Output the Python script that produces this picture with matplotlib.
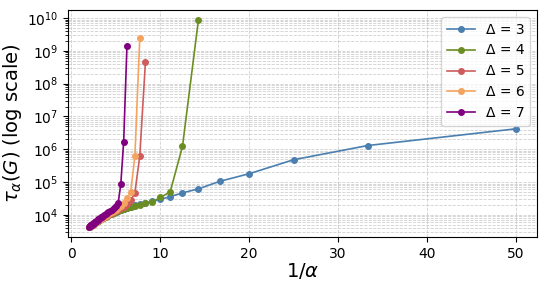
import numpy as np
import matplotlib
matplotlib.use("Agg")
import matplotlib.pyplot as plt

alphas = [0.02, 0.03, 0.04, 0.05, 0.06, 0.07, 0.08, 0.09, 0.10, 0.11, 0.12, 0.13,
          0.14, 0.15, 0.16, 0.17, 0.18, 0.19, 0.20, 0.21, 0.22, 0.23, 0.24, 0.25,
          0.26, 0.27, 0.28, 0.29, 0.30, 0.31, 0.32, 0.33, 0.34, 0.35, 0.36, 0.37,
          0.38, 0.39, 0.40, 0.41, 0.42, 0.43, 0.44, 0.45, 0.46, 0.47, 0.48, 0.49, 0.50]

tau_d3 = [4.2e6, 1.3e6, 4.8e5, 1.8e5, 1.05e5, 6.2e4, 4.7e4, 3.6e4, 2.95e4, 2.6e4,
          2.35e4, 2.15e4, 1.95e4, 1.78e4, 1.65e4, 1.55e4, 1.45e4, 1.35e4, 1.26e4,
          1.18e4, 1.12e4, 1.05e4, 1.0e4, 9.5e3, 9.1e3, 8.7e3, 8.3e3, 7.9e3, 7.6e3,
          7.3e3, 7.0e3, 6.8e3, 6.6e3, 6.3e3, 6.1e3, 5.9e3, 5.75e3, 5.6e3, 5.5e3,
          5.35e3, 5.25e3, 5.1e3, 5.0e3, 4.9e3, 4.8e3, 4.7e3, 4.6e3, 4.5e3, 4.4e3]
tau_d4 = [8.5e9, 1.23e6, 5.0e4, 3.4e4, 2.5e4, 2.25e4, 2.05e4, 1.87e4, 1.72e4, 1.6e4,
          1.5e4, 1.4e4, 1.31e4, 1.23e4, 1.16e4, 1.09e4, 1.03e4, 9.8e3, 9.3e3, 8.9e3,
          8.5e3, 8.1e3, 7.8e3, 7.5e3, 7.2e3, 6.9e3, 6.7e3, 6.5e3, 6.2e3, 6.0e3,
          5.8e3, 5.65e3, 5.5e3, 5.35e3, 5.25e3, 5.1e3, 5.0e3, 4.9e3, 4.8e3, 4.7e3,
          4.6e3, 4.5e3, 4.4e3, 4.35e3]
tau_d5 = [4.7e8, 6.1e5, 4.7e4, 2.8e4, 2.1e4, 1.8e4, 1.6e4, 1.45e4, 1.33e4, 1.23e4,
          1.15e4, 1.08e4, 1.02e4, 9.6e3, 9.1e3, 8.7e3, 8.3e3, 7.9e3, 7.6e3, 7.3e3,
          7.0e3, 6.8e3, 6.6e3, 6.3e3, 6.1e3, 5.9e3, 5.75e3, 5.6e3, 5.45e3, 5.3e3,
          5.2e3, 5.05e3, 4.95e3, 4.85e3, 4.75e3, 4.65e3, 4.55e3, 4.45e3, 4.4e3]
tau_d6 = [2.4e9, 6.1e5, 5.0e4, 3.2e4, 2.3e4, 1.9e4, 1.62e4, 1.46e4, 1.32e4, 1.22e4,
          1.13e4, 1.06e4, 1.0e4, 9.4e3, 8.9e3, 8.5e3, 8.1e3, 7.7e3, 7.4e3, 7.1e3,
          6.8e3, 6.6e3, 6.3e3, 6.1e3, 5.9e3, 5.7e3, 5.55e3, 5.4e3, 5.25e3, 5.15e3,
          5.0e3, 4.9e3, 4.8e3, 4.7e3, 4.6e3, 4.5e3, 4.4e3, 4.35e3]
tau_d7 = [1.4e9, 1.7e6, 8.5e4, 2.3e4, 1.85e4, 1.6e4, 1.45e4, 1.32e4, 1.21e4, 1.12e4,
          1.05e4, 9.8e3, 9.3e3, 8.8e3, 8.4e3, 8.0e3, 7.6e3, 7.3e3, 7.0e3, 6.7e3,
          6.4e3, 6.2e3, 6.0e3, 5.8e3, 5.6e3, 5.45e3, 5.3e3, 5.15e3, 5.0e3, 4.9e3,
          4.8e3, 4.7e3, 4.6e3, 4.5e3, 4.4e3]

series = [
    ("Δ = 3", tau_d3, "#4a7fb0"),
    ("Δ = 4", tau_d4, "#6b8e23"),
    ("Δ = 5", tau_d5, "#cd5c5c"),
    ("Δ = 6", tau_d6, "#f4a460"),
    ("Δ = 7", tau_d7, "#800080"),
]

fig = plt.figure(figsize=(5.47, 2.86), dpi=100)
ax = fig.add_axes([0.124, 0.171, 0.858, 0.794])

a = np.array(alphas)
for label, vals, color in series:
    n = len(vals)
    x = 1.0 / a[len(a) - n:]
    ax.plot(x, vals, marker='o', markersize=4, linewidth=1.2, color=color, label=label)

ax.set_yscale('log')
ax.grid(True, which='both', linestyle='--', linewidth=0.6, alpha=0.6)
ax.set_xlabel(r'$1/\alpha$', fontsize=14, labelpad=0)
ax.set_ylabel(r'$\tau_\alpha(G)$ (log scale)', fontsize=14, labelpad=2)
ax.tick_params(labelsize=10)
ax.legend(loc='upper right', fontsize=10)

fig.savefig("out.png", dpi=100)
